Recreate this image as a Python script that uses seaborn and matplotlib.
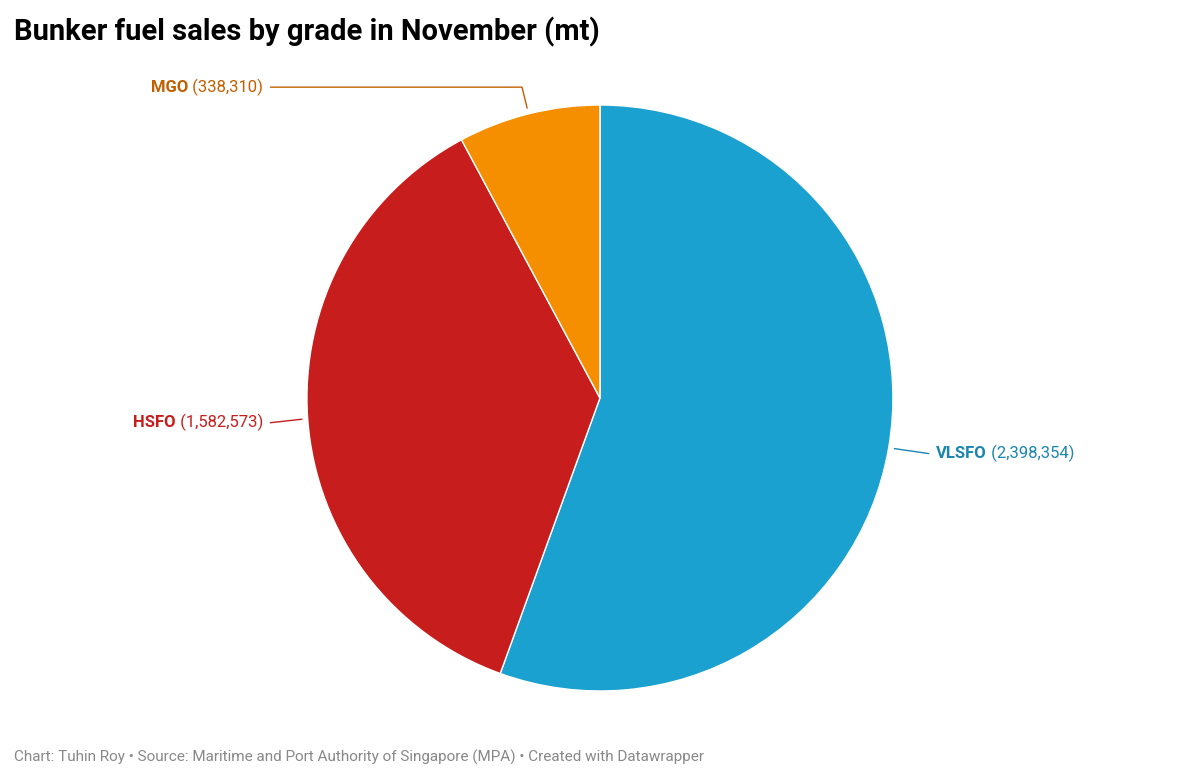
import numpy as np
import matplotlib
matplotlib.use("Agg")
import matplotlib.pyplot as plt
import seaborn as sns

# Data
grades = ["VLSFO", "HSFO", "MGO"]
sales = [2398354, 1582573, 338310]
colors = ["#1aa1cf", "#c71e1d", "#f68f00"]
text_colors = ["#1a86b0", "#c71e1d", "#c25f00"]

sns.set_theme(style="white")
plt.rcParams['font.family'] = ['Roboto', 'DejaVu Sans']

fig = plt.figure(figsize=(12, 7.8), dpi=100)
ax = fig.add_axes([0.2558, 0.1141, 0.4883, 0.7513])
wedges, _ = ax.pie(sales, colors=colors, startangle=90, counterclock=False,
                   wedgeprops=dict(edgecolor="white", linewidth=1))
ax.set_xlim(-1, 1)
ax.set_ylim(-1, 1)
ax.set_aspect("equal")
ax.axis("off")

total = sum(sales)
start = 90.0
for i, (g, v) in enumerate(zip(grades, sales)):
    span = 360.0 * v / total
    mid = np.deg2rad(start - span / 2)
    start -= span
    ex, ey = np.cos(mid), np.sin(mid)
    lc = text_colors[i]
    label = "$\\bf{" + g + "}$"
    if g == "MGO":
        tx, ty = -1.15, 1.061
        ax.plot([tx + 0.025, -0.266, ex * 1.02], [ty, ty, ey * 1.02], color=lc, lw=1,
                clip_on=False)
        ha = "right"
    elif g == "HSFO":
        tx, ty = -1.15, ey - 0.012
        ax.plot([tx + 0.025, ex - 0.02], [ty, ey], color=lc, lw=1, clip_on=False)
        ha = "right"
    else:
        tx, ty = 1.147, ey - 0.017
        ax.plot([ex + 0.02, tx - 0.025], [ey, ty], color=lc, lw=1, clip_on=False)
        ha = "left"
    ax.text(tx, ty, g, ha=ha, va="center", fontsize=12, color=lc, fontweight="bold",
            alpha=0)  # placeholder for measuring
    if ha == "right":
        t2 = ax.text(tx, ty, " ({:,})".format(v), ha="right", va="center", fontsize=12, color=lc)
        fig.canvas.draw()
        bb = t2.get_window_extent().transformed(ax.transData.inverted())
        ax.text(bb.x0, ty, g, ha="right", va="center", fontsize=12, color=lc, fontweight="bold")
    else:
        t1 = ax.text(tx, ty, g, ha="left", va="center", fontsize=12, color=lc, fontweight="bold")
        fig.canvas.draw()
        bb = t1.get_window_extent().transformed(ax.transData.inverted())
        ax.text(bb.x1, ty, " ({:,})".format(v), ha="left", va="center", fontsize=12, color=lc)

fig.text(14 / 1200, 1 - 32 / 780, "Bunker fuel sales by grade in November (mt)",
         fontsize=21, fontweight="bold", color="#000000", va="center", ha="left")
fig.text(14 / 1200, 1 - 757 / 780,
         "Chart: Tuhin Roy • Source: Maritime and Port Authority of Singapore (MPA) • Created with Datawrapper",
         fontsize=11, color="#888888", va="center", ha="left")

fig.savefig("out.png", dpi=100, facecolor="white")
